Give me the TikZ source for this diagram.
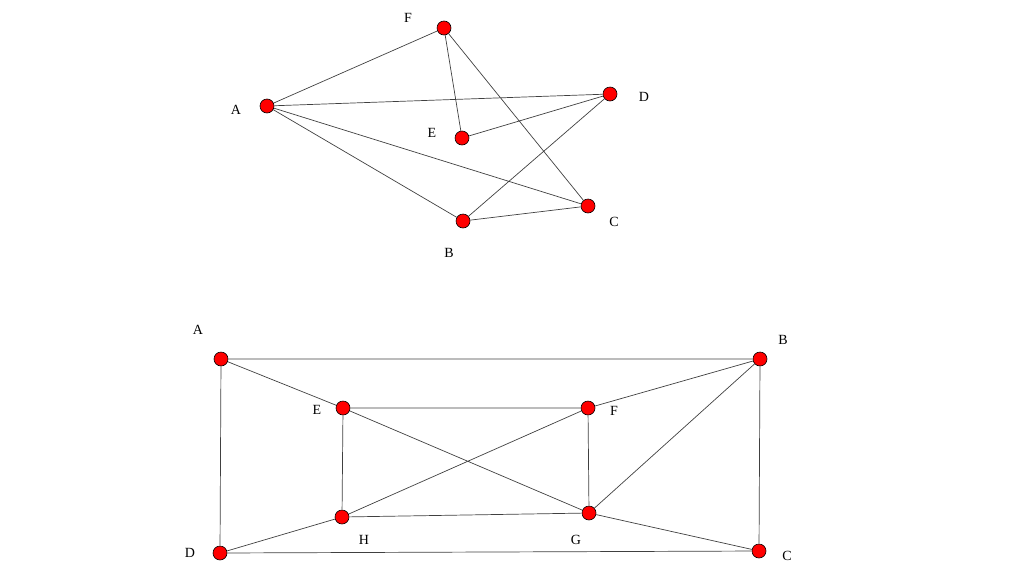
\documentclass[tikz,border=0pt]{standalone}
\usepackage{fontspec}
\setmainfont{Liberation Serif}
\begin{document}
\begin{tikzpicture}[x=1pt,y=-1pt,
  v/.style={circle,fill=red,draw=black,line width=0.6pt,minimum size=14pt,inner sep=0pt},
  lb/.style={font=\fontsize{14}{14}\selectfont},
  e/.style={draw=black!75,line width=0.7pt}]
\useasboundingbox (0,0) rectangle (1024,576);
% top graph
\node[v] (F) at (444,28) {};
\node[v] (A) at (267,106) {};
\node[v] (D) at (610,94) {};
\node[v] (E) at (462,138) {};
\node[v] (C) at (588,206) {};
\node[v] (B) at (463,221) {};
\node[lb] at (408,18) {F};
\node[lb] at (236,110) {A};
\node[lb] at (644,97) {D};
\node[lb] at (432,133) {E};
\node[lb] at (614,222) {C};
\node[lb] at (449,253) {B};
\begin{scope}[on background layer/.style={}]
\path[e] (A)--(F) (F)--(E) (F)--(C) (A)--(D) (E)--(D) (A)--(C) (A)--(B) (B)--(D) (B)--(C);
\end{scope}
% bottom graph
\node[v] (a) at (221,359) {};
\node[v] (b) at (760,359) {};
\node[v] (c) at (759,551) {};
\node[v] (d) at (220,553) {};
\node[v] (e) at (343,408) {};
\node[v] (f) at (588,408) {};
\node[v] (g) at (589,513) {};
\node[v] (h) at (342,517) {};
\node[lb] at (198,330) {A};
\node[lb] at (783,340) {B};
\node[lb] at (787,556) {C};
\node[lb] at (190,553) {D};
\node[lb] at (317,410) {E};
\node[lb] at (614,411) {F};
\node[lb] at (576,540) {G};
\node[lb] at (364,540) {H};
\path[e] (a)--(b) (a)--(d) (b)--(c) (d)--(c) (a)--(e) (e)--(g) (g)--(c)
  (e)--(f) (e)--(h) (f)--(g) (h)--(g) (h)--(f) (f)--(b) (g)--(b) (d)--(h);
\end{tikzpicture}
\end{document}
